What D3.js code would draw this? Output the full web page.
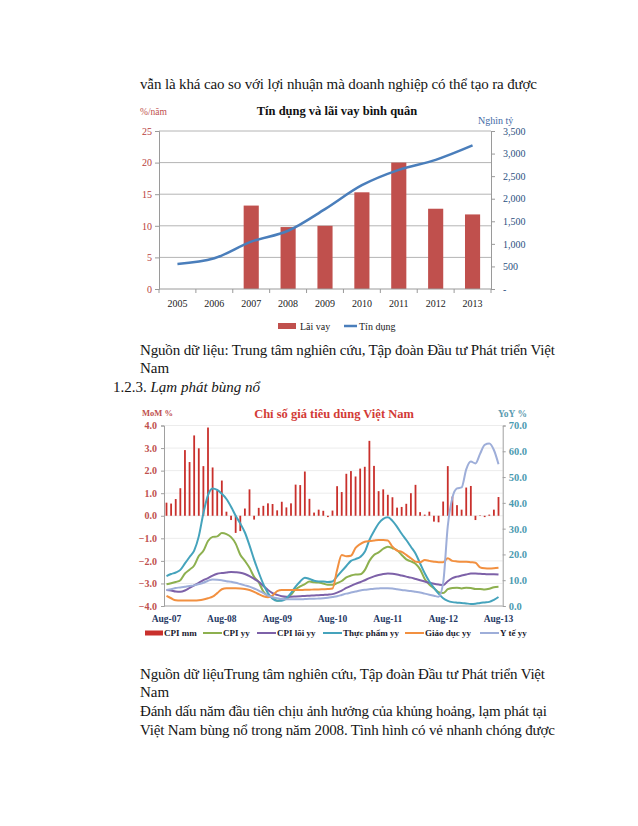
<!DOCTYPE html>
<html>
<head>
<meta charset="utf-8">
<script src="https://cdn.jsdelivr.net/npm/d3@7"></script>
<style>
body{margin:0;background:#fff;}
svg{display:block;}
</style>
</head>
<body>
<div id="container"></div>
<script>
// bieu do 1: tin dung va lai vay
let years = ["2005","2006","2007","2008","2009","2010","2011","2012","2013"];
let laiVay = [null, null, 13.2, 9.8, 10.0, 15.3, 20.0, 12.7, 11.8];
let tinDung = [555, 680, 1050, 1290, 1770, 2300, 2640, 2860, 3180];
let laiVayTicks = [0, 5, 10, 15, 20, 25];
let tinDungTicks = [0, 500, 1000, 1500, 2000, 2500, 3000, 3500];

// bieu do 2: CPI theo thang, Aug-07 .. Aug-13
let monthTicks = ["Aug-07","Aug-08","Aug-09","Aug-10","Aug-11","Aug-12","Aug-13"];
let momTicks = [-4, -3, -2, -1, 0, 1, 2, 3, 4];
let yoyTicks = [0, 10, 20, 30, 40, 50, 60, 70];
let cpiMM = [0.58,0.54,0.74,1.22,2.91,
  2.38,3.56,2.99,2.20,3.91,2.14,1.13,1.56,0.18,-0.19,-0.76,-0.68,
  0.32,1.17,-0.17,0.35,0.44,0.55,0.52,0.24,0.62,0.37,0.55,1.38,
  1.36,1.96,0.75,0.14,0.27,0.22,-0.06,0.23,1.31,1.05,1.86,1.98,
  1.74,2.09,2.17,3.32,2.21,1.09,1.17,0.93,0.82,0.36,0.39,0.53,
  1.00,1.37,0.16,0.05,0.18,-0.26,-0.29,0.63,2.20,0.85,0.47,0.27,
  1.25,1.32,-0.19,0.02,-0.06,0.05,0.27,0.83];
let cpiYY = [8.4,8.8,9.3,10.0,12.6,
  14.1,15.7,19.4,21.4,25.2,26.8,27.0,28.3,27.9,26.7,24.2,19.9,
  17.5,14.8,11.3,9.2,5.6,3.9,3.3,2.0,2.4,2.7,4.4,6.5,
  7.6,8.5,9.5,9.2,9.1,8.7,8.2,8.2,8.9,9.7,11.1,11.8,
  12.2,12.3,13.9,17.5,19.8,20.8,22.2,23.0,22.4,21.6,19.8,18.1,
  17.3,16.4,14.2,10.5,8.3,6.9,5.4,5.0,6.5,7.0,7.1,6.8,
  7.1,7.0,6.6,6.6,6.4,6.7,7.3,7.5];
let cpiLoiYY = [6.2,6.0,5.6,5.5,6.0,
  7.0,8.0,9.0,10.0,10.8,11.8,12.5,12.8,13.0,13.2,13.1,12.9,
  12.4,11.6,10.5,9.4,7.8,6.2,5.0,4.3,3.8,3.6,3.6,3.7,
  3.8,3.9,4.0,4.1,4.2,4.3,4.4,4.6,5.2,6.0,7.0,7.8,
  8.6,9.2,10.0,10.8,11.5,12.0,12.4,12.6,12.5,12.2,11.8,11.4,
  11.0,10.5,10.0,9.5,9.0,8.6,8.3,8.1,9.6,10.8,11.4,11.8,
  12.2,12.6,12.6,12.5,12.4,12.3,12.3,12.2];
let thucPhamYY = [11.6,12.4,13.0,14.0,16.5,
  19.0,21.5,27.0,36.0,43.0,45.6,45.0,43.5,41.5,38.5,35.0,32.0,
  28.5,23.5,18.0,13.0,8.5,5.0,2.8,2.0,2.0,3.0,5.0,7.5,
  9.5,11.0,10.5,9.8,9.5,9.5,9.3,9.5,11.5,13.5,15.5,17.5,
  18.2,19.0,21.0,25.6,29.0,32.0,33.8,34.4,33.0,30.7,28.0,25.6,
  23.0,20.4,16.5,12.7,9.5,7.0,4.8,3.0,2.0,1.5,1.3,1.2,
  1.0,0.8,0.9,1.2,1.4,1.6,2.4,3.5];
let giaoDucYY = [3.9,3.0,2.2,2.1,2.1,
  2.1,2.1,2.2,2.5,3.0,3.6,5.0,6.5,6.9,6.9,6.9,6.8,
  6.6,6.2,5.5,4.6,3.8,3.4,4.0,5.8,6.2,6.2,6.2,6.2,
  6.2,6.3,6.3,6.4,6.4,6.5,6.6,6.8,14.0,19.8,19.3,19.5,
  22.5,24.0,24.9,25.2,25.4,25.6,25.6,25.4,23.0,21.5,21.0,19.8,
  18.5,17.2,17.0,17.8,17.5,17.2,17.0,17.0,18.5,17.5,17.3,17.2,
  17.2,17.0,16.8,15.0,14.6,14.5,14.6,14.8];
let yTeYY = [6.2,6.5,7.0,7.2,7.5,
  7.8,8.0,8.5,9.0,9.8,10.3,10.2,10.0,9.6,9.4,9.0,8.5,
  8.0,7.5,6.8,6.0,5.0,4.0,3.4,3.0,2.7,2.6,2.6,2.6,
  2.6,2.7,2.8,2.8,2.9,3.0,3.2,3.5,3.8,4.3,4.8,5.2,
  5.6,6.0,6.3,6.5,6.7,6.8,6.9,6.9,6.8,6.5,6.2,6.0,
  5.8,5.5,5.2,4.8,4.4,4.0,3.6,9.0,31.0,42.0,45.6,46.0,
  53.0,56.0,55.3,59.0,62.5,63.0,60.5,55.0];

let seriesNames = ["CPI yy","CPI lõi yy","Thực phẩm yy","Giáo dục yy","Y tế yy"];
let seriesColors = ["#8db04f","#7d61a8","#45a3bc","#f29040","#9eaed9"];
let seriesData = [cpiYY, cpiLoiYY, thucPhamYY, giaoDucYY, yTeYY];

let serif = "'Liberation Serif','Times New Roman',serif";

let svg = d3.select("#container").append("svg")
  .attr("width", 638).attr("height", 826)
  .style("font-family", serif);

// van ban trong trang
function line(txt, x, y, len) {
  let t = svg.append("text").attr("x", x).attr("y", y)
    .attr("font-size", 15).attr("fill", "#151515").text(txt);
  if (len) t.attr("textLength", len).attr("lengthAdjust", "spacing");
  return t;
}
line("vẫn là khá cao so với lợi nhuận mà doanh nghiệp có thể tạo ra được", 140, 89, 397);
line("Nguồn dữ liệu: Trung tâm nghiên cứu, Tập đoàn Đầu tư Phát triển Việt", 140, 355, 415);
line("Nam", 140, 373);
let h = line("", 113, 392);
h.append("tspan").text("1.2.3. ");
h.append("tspan").attr("font-style", "italic").text("Lạm phát bùng nổ");
line("Nguồn dữ liệuTrung tâm nghiên cứu, Tập đoàn Đầu tư Phát triển Việt", 140, 679, 405);
line("Nam", 140, 697);
line("Đánh dấu năm đầu tiên chịu ảnh hưởng của khủng hoảng, lạm phát tại", 140, 716, 407);
line("Việt Nam bùng nổ trong năm 2008. Tình hình có vẻ nhanh chóng được", 140, 735, 415);

// ===== bieu do 1 =====
function drawChart1() {
  let x = d3.scaleBand().domain(years).range([159, 491]);
  let y = d3.scaleLinear().domain([0, 25]).range([289, 131]);
  let yr = d3.scaleLinear().domain([0, 3500]).range([289, 131]);
  let g = svg.append("g");

  // luoi
  g.selectAll(".grid").data(laiVayTicks.filter(d => d > 0)).join("line")
    .attr("x1", 159).attr("x2", 491)
    .attr("y1", d => y(d)).attr("y2", d => y(d))
    .attr("stroke", "#b4b4b4").attr("stroke-width", 1);

  // cot lai vay
  let bw = x.bandwidth() * 0.41;
  g.selectAll(".bar").data(years.map((d, i) => ({year: d, v: laiVay[i]})).filter(d => d.v != null))
    .join("rect")
    .attr("x", d => x(d.year) + (x.bandwidth() - bw) / 2)
    .attr("width", bw)
    .attr("y", d => y(d.v))
    .attr("height", d => y(0) - y(d.v))
    .attr("fill", "#c0504d");

  // duong tin dung
  let ln = d3.line()
    .x((d, i) => x(years[i]) + x.bandwidth() / 2)
    .y(d => yr(d))
    .curve(d3.curveMonotoneX);
  g.append("path").datum(tinDung).attr("d", ln)
    .attr("fill", "none").attr("stroke", "#4a7ebb").attr("stroke-width", 2.5);

  // truc trai
  let la = g.append("g").attr("transform", "translate(159,0)")
    .call(d3.axisLeft(y).tickValues(laiVayTicks).tickSize(4).tickPadding(3));
  la.selectAll("path,line").attr("stroke", "#9a9a9a");
  la.selectAll("text").attr("fill", "#b8403c").attr("font-size", 10).attr("font-family", serif);

  // truc phai
  let ra = g.append("g").attr("transform", "translate(491,0)")
    .call(d3.axisRight(yr).tickValues(tinDungTicks)
      .tickFormat(d => d === 0 ? "-" : d3.format(",")(d)).tickSize(4).tickPadding(8));
  ra.selectAll("path,line").attr("stroke", "#9a9a9a");
  ra.selectAll("text").attr("fill", "#2a4f80").attr("font-size", 10).attr("font-family", serif);

  // truc duoi
  g.append("line").attr("x1", 159).attr("x2", 491).attr("y1", y(0)).attr("y2", y(0))
    .attr("stroke", "#9a9a9a");
  g.selectAll(".xt").data(years.map(d => x(d)).concat([x.range()[1]])).join("line")
    .attr("x1", d => d).attr("x2", d => d).attr("y1", y(0)).attr("y2", y(0) + 4)
    .attr("stroke", "#9a9a9a");
  g.selectAll(".xl").data(years).join("text")
    .attr("x", d => x(d) + x.bandwidth() / 2).attr("y", 307)
    .attr("text-anchor", "middle").attr("font-size", 10).attr("fill", "#222")
    .text(d => d);

  // tieu de
  g.append("text").attr("x", 337).attr("y", 115).attr("text-anchor", "middle")
    .attr("font-weight", "bold").attr("font-size", 12.5).attr("fill", "#111")
    .text("Tín dụng và lãi vay bình quân");
  g.append("text").attr("x", 140).attr("y", 115).attr("font-size", 9.5)
    .attr("fill", "#c0504d").text("%/năm");
  g.append("text").attr("x", 478).attr("y", 124).attr("font-size", 10)
    .attr("fill", "#3f6aa6").text("Nghìn tỷ");

  // chu giai
  g.append("rect").attr("x", 278).attr("y", 323).attr("width", 18).attr("height", 6)
    .attr("fill", "#c0504d");
  g.append("text").attr("x", 300).attr("y", 330).attr("font-size", 10).attr("fill", "#222")
    .text("Lãi vay");
  g.append("line").attr("x1", 344).attr("x2", 357).attr("y1", 326).attr("y2", 326)
    .attr("stroke", "#4a7ebb").attr("stroke-width", 2.5);
  g.append("text").attr("x", 359).attr("y", 330).attr("font-size", 10).attr("fill", "#222")
    .text("Tín dụng");
}

// ===== bieu do 2 =====
function drawChart2() {
  let x = d3.scaleLinear().domain([0, cpiMM.length - 1]).range([166.5, 498.5]);
  let y = d3.scaleLinear().domain([-4, 4]).range([606, 425.5]);
  let yr = d3.scaleLinear().domain([0, 70]).range([606, 425.5]);
  let left = 164, right = 502.7;
  let g = svg.append("g");

  g.selectAll(".grid").data(momTicks.filter(d => d > -4)).join("line")
    .attr("x1", left).attr("x2", right)
    .attr("y1", d => y(d)).attr("y2", d => y(d))
    .attr("stroke", "#ececec").attr("stroke-width", 1);

  // cot CPI mm
  g.selectAll(".bar").data(cpiMM).join("rect")
    .attr("x", (d, i) => x(i) - 0.9)
    .attr("width", 1.8)
    .attr("y", d => y(Math.max(0, d)))
    .attr("height", d => Math.abs(y(d) - y(0)))
    .attr("fill", "#c9302c");

  // cac duong yy
  let ln = d3.line().x((d, i) => x(i)).y(d => yr(d)).curve(d3.curveMonotoneX);
  seriesData.forEach((s, k) => {
    g.append("path").datum(s).attr("d", ln)
      .attr("fill", "none").attr("stroke", seriesColors[k]).attr("stroke-width", 2);
  });

  // truc trai
  let la = g.append("g").attr("transform", `translate(${left},0)`)
    .call(d3.axisLeft(y).tickValues(momTicks).tickFormat(d3.format(".1f")).tickSize(3).tickPadding(4));
  la.selectAll("path,line").attr("stroke", "#a0a0a0");
  la.selectAll("text").attr("fill", "#c0504d").attr("font-size", 10)
    .attr("font-weight", "bold").attr("font-family", serif);

  // truc phai
  let ra = g.append("g").attr("transform", `translate(${right},0)`)
    .call(d3.axisRight(yr).tickValues(yoyTicks).tickFormat(d3.format(".1f")).tickSize(3).tickPadding(3));
  ra.selectAll("path,line").attr("stroke", "#a0a0a0");
  ra.selectAll("text").attr("fill", "#4b9bb1").attr("font-size", 10.5)
    .attr("font-weight", "bold").attr("font-family", serif);

  // truc duoi
  g.append("line").attr("x1", left).attr("x2", right).attr("y1", 606).attr("y2", 606)
    .attr("stroke", "#a0a0a0");
  g.selectAll(".xl").data(monthTicks).join("text")
    .attr("x", (d, i) => x(i * 12)).attr("y", 622)
    .attr("text-anchor", "middle").attr("font-size", 9.5).attr("font-weight", "bold")
    .attr("fill", "#1f3864").text(d => d);

  // tieu de
  g.append("text").attr("x", 334).attr("y", 418).attr("text-anchor", "middle")
    .attr("font-weight", "bold").attr("font-size", 12.5).attr("fill", "#d23a36")
    .text("Chỉ số giá tiêu dùng Việt Nam");
  g.append("text").attr("x", 142).attr("y", 416).attr("font-size", 8.5)
    .attr("font-weight", "bold").attr("fill", "#c0504d").text("MoM %");
  g.append("text").attr("x", 498).attr("y", 417).attr("font-size", 9.5)
    .attr("font-weight", "bold").attr("fill", "#5b9bb0").text("YoY %");

  // chu giai
  let ly = 633;
  g.append("rect").attr("x", 145).attr("y", ly - 2.5).attr("width", 18).attr("height", 5)
    .attr("fill", "#c9302c");
  g.append("text").attr("x", 164).attr("y", ly + 3).attr("font-size", 9)
    .attr("font-weight", "bold").attr("fill", "#1a1a2e").text("CPI mm");
  let lx = [203, 257, 323, 405, 480];
  seriesNames.forEach((n, k) => {
    g.append("line").attr("x1", lx[k]).attr("x2", lx[k] + 19).attr("y1", ly).attr("y2", ly)
      .attr("stroke", seriesColors[k]).attr("stroke-width", 2);
    g.append("text").attr("x", lx[k] + 20).attr("y", ly + 3).attr("font-size", 9)
      .attr("font-weight", "bold").attr("fill", "#1a1a2e").text(n);
  });
}

drawChart1();
drawChart2();
</script>
</body>
</html>
